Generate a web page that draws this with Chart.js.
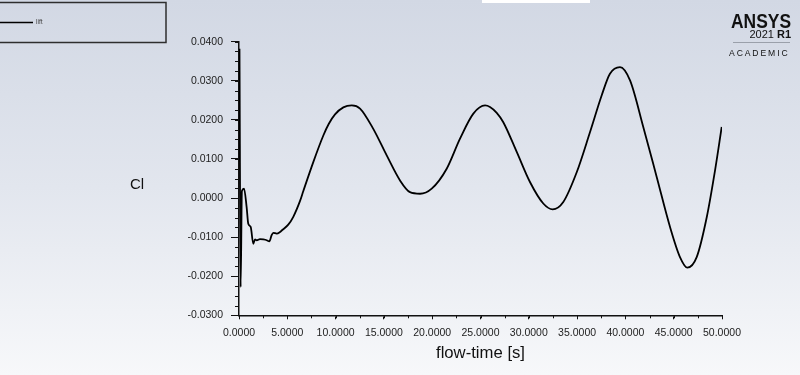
<!DOCTYPE html>
<html>
<head>
<meta charset="utf-8">
<script src="https://cdn.jsdelivr.net/npm/chart.js@4/dist/chart.umd.min.js"></script>
<style>
  html, body { margin: 0; padding: 0; }
  body {
    width: 800px; height: 375px; overflow: hidden;
    background: linear-gradient(to bottom, rgb(210,216,228) 0%, rgb(226,230,238) 50%, rgb(247,248,250) 100%);
  }
  #wrap { position: relative; width: 800px; height: 375px; }
</style>
</head>
<body>
<div id="wrap"><canvas id="liftChart" width="800" height="375"></canvas></div>
<script>
// lift coefficient history
var flowTime = [0.05, 0.17, 0.3, 0.52, 0.79, 0.96, 1.21, 1.48, 1.66, 1.83, 2.17, 2.52, 2.87, 3.14, 3.38, 3.55,
    3.9, 4.24, 4.42, 5.1, 5.62, 6.31, 6.66, 7.69, 8.73, 9.3, 9.94, 10.8, 11.67, 12.53, 13.9, 15.29, 16.67,
    17.7, 18.74, 19.95, 21.5, 22.88, 24.26, 25.47, 25.98, 26.68, 27.36, 28.75, 30.12, 31.5, 32.47, 33.57,
    34.96, 36.34, 37.55, 38.4, 39.44, 40.48, 41.85, 43.24, 44.62, 45.65, 46.41, 47.38, 48.42, 49.28, 49.97];
var lift = [0.0382, -0.0228, 0.0018, 0.0024, -0.0023, -0.0066, -0.0074, -0.0117, -0.0106, -0.0108, -0.0105,
    -0.0106, -0.0108, -0.0111, -0.0095, -0.0089, -0.0091, -0.0087, -0.0083, -0.0068, -0.0048, -0.0008, 0.0018,
    0.0092, 0.0160, 0.0190, 0.0214, 0.0232, 0.0237, 0.0229, 0.0177, 0.0109, 0.0045, 0.0015, 0.0011, 0.0024,
    0.0075, 0.0152, 0.0216, 0.0237, 0.0233, 0.0218, 0.0194, 0.0118, 0.0041, -0.0014, -0.0029, -0.0010,
    0.0066, 0.0169, 0.0263, 0.0318, 0.0335, 0.0301, 0.0182, 0.0054, -0.0074, -0.0151, -0.0178, -0.0151,
    -0.0049, 0.0071, 0.0182];

var yMin = -0.03, yMax = 0.04, yStep = 0.01, yMinorStep = 0.0025;
var xMin = 0, xMax = 50, xStep = 5, xMinorStep = 2.5;

var points = flowTime.map(function(t, i) {
    return { x: t, y: lift[i] };
});

var FONT = "'Liberation Sans', Arial, sans-serif";

// Achsen-Nebenstriche, Legende, Beschriftungen und Logo
var decorPlugin = {
    id: 'decor',
    beforeDraw: function(chart) {
        var c = chart.ctx;
        c.save();
        c.fillStyle = '#ffffff';
        c.fillRect(482, 0, 108, 3);
        c.restore();
    },
    afterDraw: function(chart) {
        var c = chart.ctx;
        var xs = chart.scales.x, ys = chart.scales.y;
        c.save();
        c.strokeStyle = '#111';
        c.lineWidth = 1;
        // minor ticks y
        for (var v = yMin; v <= yMax + 1e-9; v += yMinorStep) {
            var py = Math.round(ys.getPixelForValue(v)) + 0.5;
            c.beginPath();
            c.moveTo(xs.left - 4, py);
            c.lineTo(xs.left, py);
            c.stroke();
        }
        // minor ticks x
        for (var t = xMin; t <= xMax + 1e-9; t += xMinorStep) {
            var px = Math.round(xs.getPixelForValue(t)) + 0.5;
            c.beginPath();
            c.moveTo(px, ys.bottom);
            c.lineTo(px, ys.bottom + 3);
            c.stroke();
        }

        // axis titles
        c.fillStyle = '#111';
        c.textAlign = 'center';
        c.textBaseline = 'middle';
        c.font = '15px ' + FONT;
        c.fillText('Cl', 137, 185);
        c.font = '16.7px ' + FONT;
        c.fillText('flow-time [s]', (xs.left + xs.right) / 2, 353);

        // legend box
        c.strokeStyle = '#2e2e2e';
        c.lineWidth = 1.5;
        c.strokeRect(-2, 2.5, 168, 40);
        c.strokeStyle = '#000';
        c.lineWidth = 1.5;
        c.beginPath();
        c.moveTo(0, 22.5);
        c.lineTo(33, 22.5);
        c.stroke();
        c.fillStyle = '#444';
        c.textAlign = 'left';
        c.font = '6.5px ' + FONT;
        c.fillText('lift', 36, 22.5);

        // ANSYS logo
        c.fillStyle = '#111';
        c.textBaseline = 'alphabetic';
        c.font = 'bold 20px ' + FONT;
        c.textAlign = 'left';
        var aw = c.measureText('ANSYS').width;
        c.save();
        c.translate(731, 27.5);
        c.scale(60 / aw, 1);
        c.fillText('ANSYS', 0, 0);
        c.restore();
        c.textAlign = 'right';
        c.font = 'bold 11px ' + FONT;
        var r1w = c.measureText('R1').width;
        c.fillText('R1', 791, 38);
        c.font = '11px ' + FONT;
        c.fillText('2021 ', 791 - r1w, 38);
        c.strokeStyle = '#9aa0aa';
        c.lineWidth = 1;
        c.beginPath();
        c.moveTo(733, 42.5);
        c.lineTo(790, 42.5);
        c.stroke();
        c.font = '8.6px ' + FONT;
        c.textAlign = 'left';
        var word = 'ACADEMIC', cx = 729;
        for (var k = 0; k < word.length; k++) {
            c.fillText(word[k], cx, 56);
            cx += c.measureText(word[k]).width + 1.9;
        }
        c.restore();
    }
};

const config = {
    type: 'line',
    data: {
        datasets: [{
            label: 'lift',
            data: points,
            borderColor: '#000',
            borderWidth: 1.8,
            pointRadius: 0,
            fill: false,
            cubicInterpolationMode: 'monotone'
        }]
    },
    options: {
        responsive: false,
        animation: false,
        events: [],
        layout: { padding: { left: 0, top: 41.7, right: 78, bottom: 0 } },
        plugins: {
            legend: { display: false },
            tooltip: { enabled: false }
        },
        scales: {
            x: {
                type: 'linear',
                min: xMin,
                max: xMax,
                grid: { drawOnChartArea: false, drawTicks: true, tickLength: 4, tickColor: '#111', tickWidth: 1 },
                border: { display: true, color: '#111', width: 1.5 },
                ticks: {
                    stepSize: xStep,
                    autoSkip: false,
                    maxRotation: 0,
                    padding: 8,
                    color: '#222',
                    font: { family: FONT, size: 10.5 },
                    callback: function(v) { return Number(v).toFixed(4); }
                },
                afterFit: function(scale) { scale.height = 375 - 315.3; }
            },
            y: {
                type: 'linear',
                min: yMin,
                max: yMax,
                grid: { drawOnChartArea: false, drawTicks: true, tickLength: 8, tickColor: '#111', tickWidth: 1 },
                border: { display: true, color: '#111', width: 1.5 },
                ticks: {
                    stepSize: yStep,
                    autoSkip: false,
                    padding: 8,
                    color: '#222',
                    font: { family: FONT, size: 10.5 },
                    callback: function(v) {
                        if (Math.abs(v) < 1e-9) v = 0;
                        return Number(v).toFixed(4);
                    }
                },
                afterFit: function(scale) { scale.width = 239; }
            }
        }
    },
    plugins: [decorPlugin]
};

var ctx = document.getElementById('liftChart');
var liftChart = new Chart(ctx, config);
</script>
</body>
</html>
